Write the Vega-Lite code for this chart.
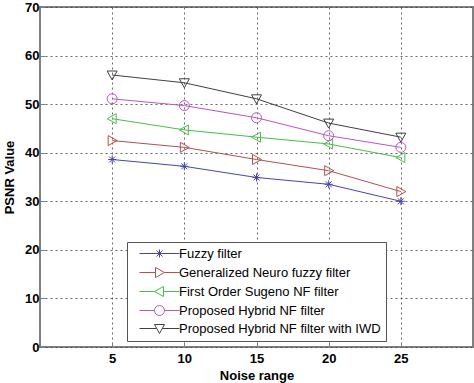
{
  "$schema": "https://vega.github.io/schema/vega-lite/v6.json",
  "width": 433,
  "height": 340,
  "autosize": "none",
  "padding": {"left": 40, "top": 7, "right": 1, "bottom": 36},
  "background": "white",
  "config": {
    "view": {"stroke": "#808080", "strokeWidth": 2},
    "font": "Liberation Sans",
    "axis": {
      "labelFont": "Liberation Sans", "labelFontWeight": "bold", "labelFontSize": 13, "labelColor": "#000",
      "titleFont": "Liberation Sans", "titleFontWeight": "bold", "titleFontSize": 13, "titleColor": "#000",
      "grid": true, "gridColor": "#444", "gridDash": [2, 3], "gridWidth": 1, "gridOpacity": 0.8,
      "domain": false, "tickColor": "#808080", "tickSize": -5, "labelPadding": 8
    },
    "legend": {
      "labelFont": "Liberation Sans", "labelFontSize": 13, "labelColor": "#000", "labelLimit": 400,
      "strokeColor": "#555", "fillColor": "white", "padding": 5,
      "symbolOffset": 21, "labelOffset": 13, "rowPadding": 4, "symbolStrokeWidth": 1
    }
  },
  "data": {
    "values": [
      {"noise": 5, "psnr": 38.6, "series": "Fuzzy filter"},
      {"noise": 10, "psnr": 37.2, "series": "Fuzzy filter"},
      {"noise": 15, "psnr": 34.9, "series": "Fuzzy filter"},
      {"noise": 20, "psnr": 33.5, "series": "Fuzzy filter"},
      {"noise": 25, "psnr": 30.0, "series": "Fuzzy filter"},
      {"noise": 5, "psnr": 42.5, "series": "Generalized Neuro fuzzy filter"},
      {"noise": 10, "psnr": 41.1, "series": "Generalized Neuro fuzzy filter"},
      {"noise": 15, "psnr": 38.6, "series": "Generalized Neuro fuzzy filter"},
      {"noise": 20, "psnr": 36.3, "series": "Generalized Neuro fuzzy filter"},
      {"noise": 25, "psnr": 32.0, "series": "Generalized Neuro fuzzy filter"},
      {"noise": 5, "psnr": 47.0, "series": "First Order Sugeno NF filter"},
      {"noise": 10, "psnr": 44.7, "series": "First Order Sugeno NF filter"},
      {"noise": 15, "psnr": 43.2, "series": "First Order Sugeno NF filter"},
      {"noise": 20, "psnr": 41.8, "series": "First Order Sugeno NF filter"},
      {"noise": 25, "psnr": 39.0, "series": "First Order Sugeno NF filter"},
      {"noise": 5, "psnr": 51.1, "series": "Proposed Hybrid NF filter"},
      {"noise": 10, "psnr": 49.7, "series": "Proposed Hybrid NF filter"},
      {"noise": 15, "psnr": 47.2, "series": "Proposed Hybrid NF filter"},
      {"noise": 20, "psnr": 43.5, "series": "Proposed Hybrid NF filter"},
      {"noise": 25, "psnr": 41.1, "series": "Proposed Hybrid NF filter"},
      {"noise": 5, "psnr": 56.0, "series": "Proposed Hybrid NF filter with IWD"},
      {"noise": 10, "psnr": 54.4, "series": "Proposed Hybrid NF filter with IWD"},
      {"noise": 15, "psnr": 51.1, "series": "Proposed Hybrid NF filter with IWD"},
      {"noise": 20, "psnr": 46.1, "series": "Proposed Hybrid NF filter with IWD"},
      {"noise": 25, "psnr": 43.2, "series": "Proposed Hybrid NF filter with IWD"}
    ]
  },
  "encoding": {
    "x": {"field": "noise", "type": "quantitative", "title": "Noise range",
      "scale": {"domain": [0, 30], "nice": false},
      "axis": {"values": [5, 10, 15, 20, 25], "titlePadding": 4, "labelPadding": 10}},
    "y": {"field": "psnr", "type": "quantitative", "title": "PSNR Value",
      "scale": {"domain": [0, 70], "nice": false},
      "axis": {"values": [0, 10, 20, 30, 40, 50, 60, 70], "titlePadding": 8, "labelPadding": 6}}
  },
  "layer": [
    {
      "mark": {"type": "line", "strokeWidth": 1},
      "encoding": {
        "color": {"field": "series", "type": "nominal", "legend": null,
          "scale": {"domain": ["Fuzzy filter", "Generalized Neuro fuzzy filter", "First Order Sugeno NF filter", "Proposed Hybrid NF filter", "Proposed Hybrid NF filter with IWD"],
            "range": ["#4545b5", "#b55050", "#45c045", "#c050c8", "#404040"]}}
      }
    },
    {
      "mark": {"type": "point", "filled": false, "size": 100, "strokeWidth": 1, "opacity": 1},
      "encoding": {
        "color": {"field": "series", "type": "nominal", "legend": null,
          "scale": {"domain": ["Fuzzy filter", "Generalized Neuro fuzzy filter", "First Order Sugeno NF filter", "Proposed Hybrid NF filter", "Proposed Hybrid NF filter with IWD"],
            "range": ["#4545b5", "#b55050", "#45c045", "#c050c8", "#404040"]}},
        "shape": {"field": "series", "type": "nominal", "legend": null,
          "scale": {"domain": ["Fuzzy filter", "Generalized Neuro fuzzy filter", "First Order Sugeno NF filter", "Proposed Hybrid NF filter", "Proposed Hybrid NF filter with IWD"],
            "range": ["M-0.8,0H0.8M0,-0.8V0.8M-0.6,-0.6L0.6,0.6M-0.6,0.6L0.6,-0.6", "M-0.8,-1L1,0L-0.8,1Z", "M0.8,-1L-1,0L0.8,1Z", "M1,0A1,1,0,1,1,-1,0A1,1,0,1,1,1,0", "M-1,-0.8L1,-0.8L0,1Z"]}}
      }
    },
    {
      "transform": [{"filter": "datum.noise < 0"}],
      "mark": {"type": "point", "filled": false, "size": 90, "strokeWidth": 1, "opacity": 1},
      "encoding": {
        "color": {"field": "series", "type": "nominal",
          "scale": {"domain": ["Fuzzy filter", "Generalized Neuro fuzzy filter", "First Order Sugeno NF filter", "Proposed Hybrid NF filter", "Proposed Hybrid NF filter with IWD"],
            "range": ["#4545b5", "#b55050", "#45c045", "#c050c8", "#404040"]},
          "legend": {"title": null, "orient": "none", "legendX": 87, "legendY": 235}},
        "shape": {"field": "series", "type": "nominal",
          "scale": {"domain": ["Fuzzy filter", "Generalized Neuro fuzzy filter", "First Order Sugeno NF filter", "Proposed Hybrid NF filter", "Proposed Hybrid NF filter with IWD"],
            "range": ["M-4,0H4M0,-0.8V0.8M-0.6,-0.6L0.6,0.6M-0.6,0.6L0.6,-0.6", "M-4,0H-0.8M1,0H4M-0.8,-1L1,0L-0.8,1Z", "M-4,0H-1M0.8,0H4M0.8,-1L-1,0L0.8,1Z", "M-4,0H-1M1,0H4M1,0A1,1,0,1,1,-1,0A1,1,0,1,1,1,0", "M-4,0H-0.6M0.6,0H4M-1,-0.8L1,-0.8L0,1Z"]},
          "legend": {"title": null, "orient": "none", "legendX": 87, "legendY": 235}}
      }
    }
  ],
  "resolve": {"scale": {"color": "independent", "shape": "independent"}}
}
